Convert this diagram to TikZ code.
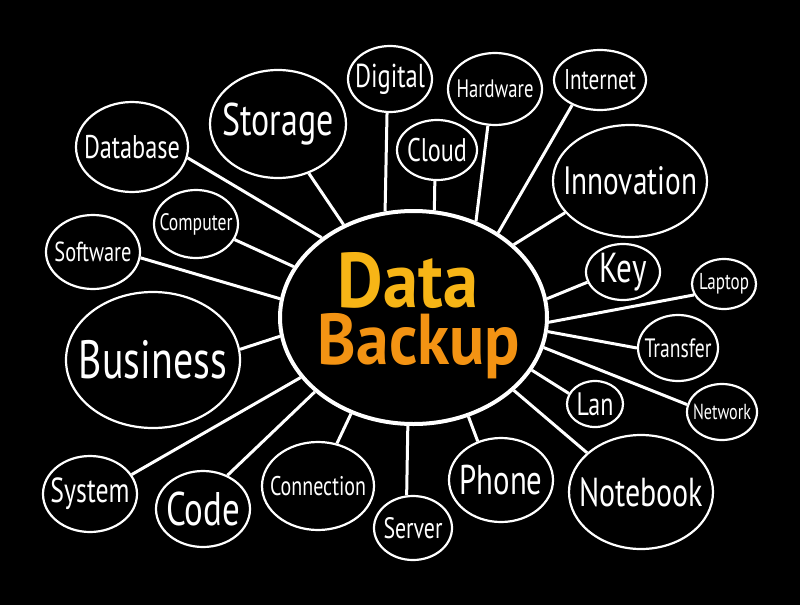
\documentclass[tikz,border=0pt]{standalone}
\usepackage{fontspec}
\setmainfont{PT Sans}
\usetikzlibrary{shapes.geometric}
\definecolor{dataY}{HTML}{F7B516}
\definecolor{dataO}{HTML}{F39313}
\newcommand{\lbl}[2]{\resizebox{#1pt}{!}{\scalebox{1}[1.35]{#2}}}
\newcommand{\clbl}[2]{\resizebox{#1pt}{!}{\scalebox{1}[1.1]{\bfseries #2}}}
\begin{document}
\begin{tikzpicture}[x=1pt,y=-1pt,
  bub/.style={ellipse, draw=white, line width=2.2pt, inner sep=0pt},
  txt/.style={text=white, inner sep=0pt},
  conn/.style={draw=white, line width=3pt},
  hub/.style={ellipse, draw=white, line width=4pt, inner sep=0pt}]
\fill[black] (0,0) rectangle (800,605);
\useasboundingbox (0,0) rectangle (800,605);
% hub
\node[hub, minimum width=267pt, minimum height=213pt] (c) at (413.5,317.5) {};
\node[inner sep=0pt, align=center] (ctext) at (419,316)
  {\textcolor{dataY}{\clbl{140}{Data}}\hspace*{22pt}\\[4pt]\textcolor{dataO}{\clbl{202}{Backup}}};
% bubbles
\node[bub, minimum width=112pt, minimum height=90pt] (db) at (132,147) {};
\node[txt] (db-t) at (db) {\lbl{96}{Database}};
\node[bub, minimum width=136pt, minimum height=108pt] (sto) at (278,124) {};
\node[txt] (sto-t) at (sto) {\lbl{111}{Storage}};
\node[bub, minimum width=84pt, minimum height=66pt] (dig) at (390,79) {};
\node[txt] (dig-t) at (dig) {\lbl{70}{Digital}};
\node[bub, minimum width=80pt, minimum height=60pt] (clo) at (437,150) {};
\node[txt] (clo-t) at (clo) {\lbl{60}{Cloud}};
\node[bub, minimum width=94pt, minimum height=72pt] (hw) at (495,89) {};
\node[txt] (hw-t) at (hw) {\lbl{77}{Hardware}};
\node[bub, minimum width=92pt, minimum height=60pt] (inet) at (600,80) {};
\node[txt] (inet-t) at (inet) {\lbl{72}{Internet}};
\node[bub, minimum width=154pt, minimum height=112pt] (inno) at (630,181) {};
\node[txt] (inno-t) at (inno) {\lbl{134}{Innovation}};
\node[bub, minimum width=74pt, minimum height=56pt] (key) at (623,272) {};
\node[txt] (key-t) at (key) {\lbl{47}{Key}};
\node[bub, minimum width=64pt, minimum height=50pt] (lap) at (724,284) {};
\node[txt] (lap-t) at (lap) {\lbl{50}{Laptop}};
\node[bub, minimum width=80pt, minimum height=66pt] (tra) at (678,348) {};
\node[txt] (tra-t) at (tra) {\lbl{67}{Transfer}};
\node[bub, minimum width=70pt, minimum height=56pt] (net) at (722,412) {};
\node[txt] (net-t) at (net) {\lbl{58}{Network}};
\node[bub, minimum width=56pt, minimum height=46pt] (lan) at (595,404) {};
\node[txt] (lan-t) at (lan) {\lbl{37}{Lan}};
\node[bub, minimum width=144pt, minimum height=114pt] (nb) at (641,492) {};
\node[txt] (nb-t) at (nb) {\lbl{124}{Notebook}};
\node[bub, minimum width=104pt, minimum height=84pt] (pho) at (501,480) {};
\node[txt] (pho-t) at (pho) {\lbl{83}{Phone}};
\node[bub, minimum width=78pt, minimum height=64pt] (srv) at (413,528) {};
\node[txt] (srv-t) at (srv) {\lbl{59}{Server}};
\node[bub, minimum width=112pt, minimum height=88pt] (con) at (318,486) {};
\node[txt] (con-t) at (con) {\lbl{96}{Connection}};
\node[bub, minimum width=94pt, minimum height=76pt] (code) at (203,509) {};
\node[txt] (code-t) at (code) {\lbl{74}{Code}};
\node[bub, minimum width=94pt, minimum height=76pt] (sys) at (90,494) {};
\node[txt] (sys-t) at (sys) {\lbl{79}{System}};
\node[bub, minimum width=174pt, minimum height=136pt] (bus) at (153,360) {};
\node[txt] (bus-t) at (bus) {\lbl{148}{Business}};
\node[bub, minimum width=94pt, minimum height=74pt] (sw) at (93,252) {};
\node[txt] (sw-t) at (sw) {\lbl{77}{Software}};
\node[bub, minimum width=84pt, minimum height=68pt] (comp) at (196,224) {};
\node[txt] (comp-t) at (comp) {\lbl{73}{Computer}};
% connectors
\draw[conn] (dig.-95) -- (c.105.2);
\draw[conn] (clo.-94) -- (c.79.3);
\draw[conn] (hw.-101) -- (c.57.4);
\draw[conn] (inet.-138) -- (c.45.3);
\draw[conn] (inno.-154.8) -- (c.36.2);
\draw[conn] (key.-164.5) -- (c.8.9);
\draw[conn] (lap.-160) -- (c.-2.1);
\draw[conn] (tra.180) -- (c.-6.5);
\draw[conn] (net.168) -- (c.-13.2);
\draw[conn] (lan.158.6) -- (c.-24.8);
\draw[conn] (nb.144.5) -- (c.-36.8);
\draw[conn] (pho.121) -- (c.-61.8);
\draw[conn] (srv.101) -- (c.-93.7);
\draw[conn] (con.66) -- (c.-123.4);
\draw[conn] (code.54.5) -- (c.-143.7);
\draw[conn] (sys.25.5) -- (c.-152.5);
\draw[conn] (bus.7.8) -- (c.-172.3);
\draw[conn] (sw.-7) -- (c.172.2);
\draw[conn] (comp.-22) -- (c.157.7);
\draw[conn] (db.-11) -- (c.139.8);
\draw[conn] (sto.-58.5) -- (c.127.7);
\end{tikzpicture}
\end{document}
